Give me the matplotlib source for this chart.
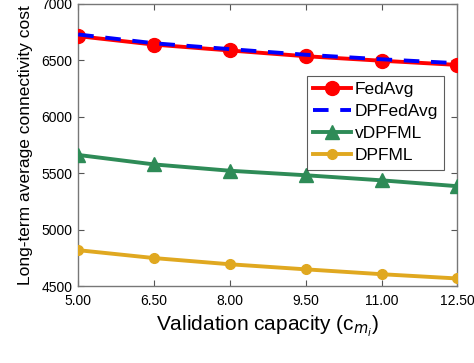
import numpy as np
import matplotlib.pyplot as plt

plt.rcParams['font.family'] = ['Liberation Sans', 'DejaVu Sans']

capacity = [5.0, 6.5, 8.0, 9.5, 11.0, 12.5]
fedavg = [6715, 6640, 6588, 6537, 6497, 6460]
dpfedavg = [6730, 6652, 6600, 6550, 6510, 6475]
vdpfml = [5662, 5578, 5522, 5482, 5437, 5385]
dpfml = [4818, 4748, 4693, 4648, 4605, 4567]

fig = plt.figure(figsize=(4.74, 3.63), dpi=100)
ax = fig.add_axes([0.165, 0.212, 0.80, 0.777])

ax.plot(capacity, fedavg, color='#ff0000', lw=2.8, marker='o', ms=10, label='FedAvg', zorder=3)
ax.plot(capacity, dpfedavg, color='#0000ff', lw=2.8, ls=(0, (4, 3)), label='DPFedAvg', zorder=4)
ax.plot(capacity, vdpfml, color='#2e8b57', lw=2.8, marker='^', ms=10, label='vDPFML', zorder=3)
ax.plot(capacity, dpfml, color='#e0a820', lw=2.8, marker='o', ms=7, label='DPFML', zorder=3)

ax.set_xlim(5, 12.5)
ax.set_ylim(4500, 7000)
ax.set_xticks(capacity)
ax.set_xticklabels(['%.2f' % c for c in capacity])
ax.set_yticks(np.arange(4500, 7001, 500))
ax.tick_params(direction='in', labelsize=10, top=True, right=True, length=4, color='#555555')
ax.tick_params(axis='x', pad=6)
ax.tick_params(axis='y', pad=4)
for s in ax.spines.values():
    s.set_color('#777777')
    s.set_linewidth(1.0)

ax.set_xlabel('Validation capacity (c$_{m_i}$)', fontsize=15, labelpad=4)
ax.set_ylabel('Long-term average connectivity cost', fontsize=12.5, labelpad=6)

leg = ax.legend(loc='upper right', bbox_to_anchor=(0.965, 0.745), fontsize=12.5,
                fancybox=False, edgecolor='#333333', handlelength=2.2,
                handletextpad=0.2, borderpad=0.35, labelspacing=0.4, borderaxespad=0)
leg.get_frame().set_linewidth(0.8)

fig.savefig('out.png', dpi=100)
